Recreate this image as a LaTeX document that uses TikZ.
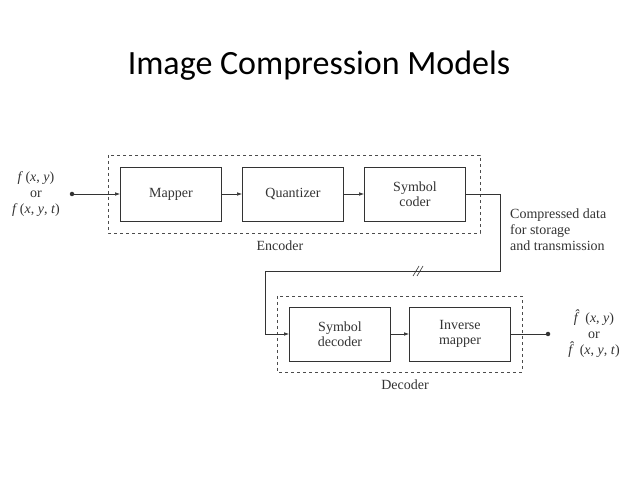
\documentclass[tikz,border=0pt]{standalone}
\usepackage{fontspec}
\setmainfont{Liberation Serif}
\newfontfamily\titlefont{Carlito}
\usetikzlibrary{arrows.meta,calc}
\newcommand{\fx}[1]{\textit{f}\,(\textit{x}, \textit{y}#1)}
\newcommand{\fhx}[1]{\textit{\^f}\,(\textit{x}, \textit{y}#1)}
\begin{document}
\begin{tikzpicture}[x=1pt,y=-1pt,
  blk/.style={draw=black!80,line width=0.8pt,minimum width=101pt,minimum height=54pt,align=center,font=\fontsize{14}{15}\selectfont,text=black!80},
  dbox/.style={draw=black!70,dashed,line width=0.6pt},
  conn/.style={draw=black!80,line width=0.6pt},
  arr/.style={conn,-{Latex[length=5pt,width=3.5pt]}},
  lbl/.style={font=\fontsize{14}{16}\selectfont,text=black!80,align=center},
  dot/.style={circle,fill=black!80,inner sep=0pt,minimum size=4.5pt}]
\useasboundingbox (0,0) rectangle (638,478);
\node[font=\titlefont\fontsize{34}{38}\selectfont] (title) at (319,66) {Image Compression Models};
\draw[dbox] (108,155) rectangle (480,233);
\node[lbl] (enc) at (280,246) {Encoder};
\node[blk] (map) at (171,194) {Mapper};
\node[blk] (quant) at (293,194) {Quantizer};
\node[blk] (sc) at (415,194) {Symbol\\coder};
\node[dot] (in) at (72,194) {};
\node[lbl,align=center,inner sep=1pt] (fin) at (36,194) {\fx{}\\or\\\fx{, \textit{t}}};
\draw[arr] (in) -- (map);
\draw[arr] (map) -- (quant);
\draw[arr] (quant) -- (sc);
\node[lbl,align=left,anchor=west,inner sep=1pt] (cd) at (509,230) {Compressed data\\for storage\\and transmission};
\draw[dbox] (277,296) rectangle (522,372);
\node[lbl] (dec) at (405,385) {Decoder};
\node[blk] (sd) at (340,334) {Symbol\\decoder};
\node[blk] (im) at (460,334) {Inverse\\mapper};
\coordinate (c1) at (500,194);
\coordinate (c2) at (500,271);
\coordinate (c3) at (265,271);
\coordinate (c4) at (265,334);
\draw[arr] (sc.east) -- (c1) -- (c2) -- (c3) -- (c4) -- (sd.west);
\coordinate (b1) at (418,271);
\draw[conn] ($(b1)+(-5,5)$) -- ($(b1)+(1,-5)$);
\draw[conn] ($(b1)+(-1,5)$) -- ($(b1)+(5,-5)$);
\draw[arr] (sd) -- (im);
\node[dot] (out) at (548,334) {};
\draw[conn] (im) -- (out);
\node[lbl,inner sep=1pt] (fout) at (594,334) {\fhx{}\\or\\\fhx{, \textit{t}}};
\end{tikzpicture}
\end{document}
